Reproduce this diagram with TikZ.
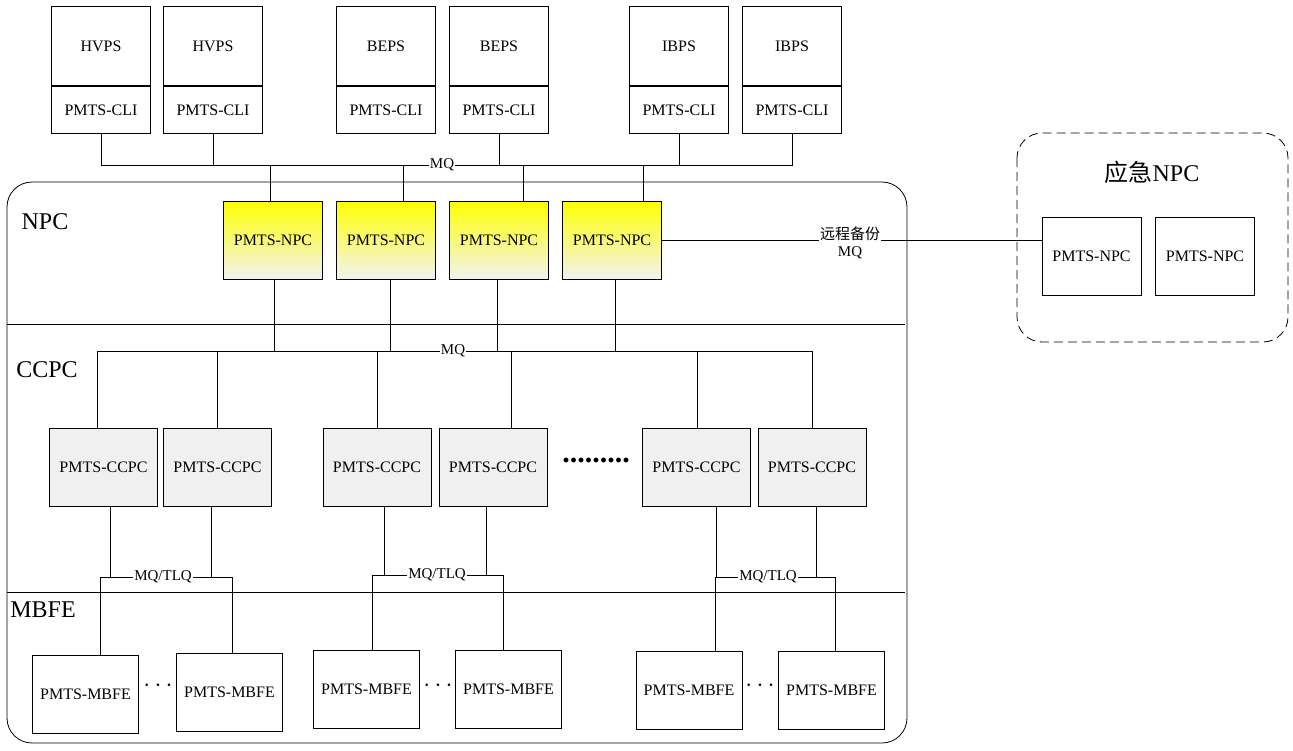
\documentclass[tikz,border=0pt]{standalone}
\usepackage{fontspec}
\setmainfont{Liberation Serif}
\newfontfamily\cjk{Noto Sans CJK SC}
\begin{document}
\begin{tikzpicture}[x=1pt,y=-1pt,
  bx/.style={draw,thick,minimum width=99pt,minimum height=78pt,inner sep=0pt,font=\fontsize{16}{18}\selectfont},
  npc/.style={bx,top color=yellow,bottom color=gray!10},
  ccpc/.style={bx,minimum width=108pt,fill=gray!12},
  mbfe/.style={bx,minimum width=106pt},
  ln/.style={draw,line width=0.6pt},
  lbl/.style={fill=white,inner sep=1pt,font=\fontsize{15}{17}\selectfont},
  big/.style={font=\fontsize{24}{27}\selectfont}]
\useasboundingbox (0,0) rectangle (1293,750);
% top systems
\foreach \n/\x/\t in {h1/101/HVPS,h2/213/HVPS,b1/386/BEPS,b2/499/BEPS,i1/679/IBPS,i2/792/IBPS}{
  \node[bx,minimum height=79pt,anchor=south] (\n) at (\x,86) {\t};
  \node[bx,minimum height=47pt,anchor=north] (\n c) at (\x,86) {PMTS-CLI};
}
% big container
\draw[thick,rounded corners=25pt] (7,182) rectangle (907,743);
\draw[ln] (7,324) -- (905,324) (7,592) -- (905,592);
\node[big] (lnpc) at (45,222) {NPC};
\node[big] (lccpc) at (47,370) {CCPC};
\node[big] (lmbfe) at (43,610) {MBFE};
% NPC
\foreach \n/\x in {n1/273,n2/386,n3/499,n4/612}{
  \node[npc] (\n) at (\x,240) {PMTS-NPC};}
\coordinate (mq1) at (97,165);
\draw[ln] (h1c.south) |- (i2c.south |- mq1) -- (i2c.south);
\foreach \n in {h2c,b2c,i1c}{\draw[ln] (\n.south) -- (\n.south |- mq1);}
\foreach \x in {270,403,523,643}{\draw[ln] (\x,165) -- (\x,201);}
\node[lbl] (mqa) at (442,165) {MQ};
% CCPC
\foreach \n/\x in {c1/103.5,c2/217.5,c3/377,c4/493,c5/696.5,c6/812}{
  \node[ccpc] (\n) at (\x,467) {PMTS-CCPC};}
\node[font=\fontsize{30}{30}\selectfont\bfseries] (dots) at (596,460) {.........};
\draw[ln] (97,351) -- (812,351);
\foreach \x in {274,390,497,615}{\draw[ln] (\x,279) -- (\x,351);}
\foreach \x in {97,217,377,511,697,812}{\draw[ln] (\x,351) -- (\x,428);}
\node[lbl] (mqb) at (453,351) {MQ};
% MBFE
\foreach \n/\x/\y in {m1/85.5/694,m2/229.5/692,m3/366.5/689.5,m4/508.5/689.5,m5/689/690.5,m6/831.5/690.5}{
  \node[mbfe] (\n) at (\x,\y) {PMTS-MBFE};}
\foreach \x/\y in {158/686,438/686,760/686}{
  \node[font=\fontsize{30}{30}\selectfont\bfseries] at (\x,\y) {$\cdots$};}
\foreach \ma/\mb/\xa/\xb/\xc/\xd/\y in {m1/m2/110/211/100/232/577,m3/m4/384/486/372/503/575,m5/m6/716/816/715/835/577}{
  \draw[ln] (\xa,506) -- (\xa,\y) (\xb,506) -- (\xb,\y);
  \draw[ln] (\xc,\y) -- (\xd,\y);
  \draw[ln] (\xc,\y) -- (\xc,\y |- \ma.north);
  \draw[ln] (\xd,\y) -- (\xd,\y |- \mb.north);
}
\node[lbl] (t1) at (163,577) {MQ/TLQ};
\node[lbl] (t2) at (437,575) {MQ/TLQ};
\node[lbl] (t3) at (768,577) {MQ/TLQ};
% emergency NPC
\draw[thick,black,dash pattern=on 9pt off 5pt,rounded corners=25pt] (1017,133) rectangle (1288,342);
\node[big] (eh) at (1152,172) {{\cjk 应急}NPC};
\node[bx] (e1) at (1091.5,256) {PMTS-NPC};
\node[bx] (e2) at (1205,256) {PMTS-NPC};
\draw[ln] (n4.east) -- (n4.east -| e1.west);
\node[lbl,align=center] (rb) at (850,243) {{\cjk 远程备份}\\MQ};
\end{tikzpicture}
\end{document}
